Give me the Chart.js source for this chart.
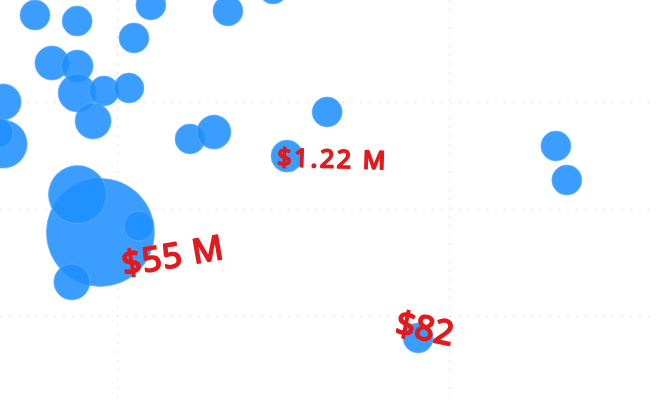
<!DOCTYPE html>
<html>
<head>
<meta charset="utf-8">
<script src="https://cdn.jsdelivr.net/npm/chart.js@4"></script>
<style>
  html, body { margin: 0; padding: 0; background: #fff; }
  #wrap { width: 657px; height: 403px; }
</style>
</head>
<body>
<div id="wrap"><canvas id="chartBubbles"></canvas></div>
<script>
// valores
const bubbleX = [75.0, 87.7, 109.9, 133.1, 146.7, 104.8, 80.1, 87.7, 87.7, 95.8, 103.3, 92.5, 65.4, 65.4, 63.9,
                 121.7, 128.9, 150.9, 163.0, 231.9, 235.2, 94.7, 87.8, 106.3, 86.1, 190.4];
const bubbleY = [241.1, 238.3, 245.8, 243.0, 253.3, 230.4, 218.7, 217.3, 204.7, 205.6, 207.0, 191.6, 200.5, 180.8, 186.0,
                 183.2, 186.4, 175.2, 195.8, 179.9, 164.0, 139.5, 157.2, 142.5, 116.4, 90.2];
const bubbleR = [15, 15, 15, 15, 15, 15, 17, 16, 19, 15, 15, 18, 18, 24, 15,
                 15, 17, 16, 15, 15, 15, 54, 29, 15, 18, 15];

const xTicks = [100, 200];
const yTicks = [100, 150, 200];

// anotações em vermelho
const noteTexts = ['$1.22 M', '$55 M', '$82'];
const noteX = [147.9, 101.8, 183.1];
const noteY = [170.6, 119.2, 92.1];

const notesPlugin = {
    id: 'notes',
    afterDatasetsDraw(chart) {
        const { ctx, scales } = chart;
        const sizes = [25, 34, 34];
        const angles = [0.03, -0.17, 0.2];
        const spacing = [2.5, 1, 0];
        ctx.save();
        noteTexts.forEach((t, i) => {
            const px = scales.x.getPixelForValue(noteX[i]);
            const py = scales.y.getPixelForValue(noteY[i]);
            ctx.save();
            ctx.translate(px, py);
            ctx.rotate(angles[i]);
            ctx.font = sizes[i] + "px 'Noto Sans'";
            ctx.letterSpacing = spacing[i] + 'px';
            ctx.fillStyle = '#e31a1c';
            ctx.strokeStyle = '#e31a1c';
            ctx.lineWidth = 1.8;
            ctx.lineJoin = 'round';
            ctx.textBaseline = 'alphabetic';
            ctx.fillText(t, 0, 0);
            ctx.strokeText(t, 0, 0);
            ctx.restore();
        });
        ctx.restore();
    }
};

const points = bubbleX.map((x, i) => ({ x: x, y: bubbleY[i], r: bubbleR[i] }));

new Chart(document.getElementById('chartBubbles'), {
    type: 'bubble',
    data: {
        datasets: [{
            data: points,
            backgroundColor: 'rgba(30, 144, 255, 0.87)',
            borderColor: 'rgba(100, 175, 255, 0.7)',
            borderWidth: 1
        }]
    },
    options: {
        responsive: true,
        maintainAspectRatio: false,
        animation: false,
        layout: { padding: 0, autoPadding: false },
        plugins: { legend: { display: false }, tooltip: { enabled: false } },
        scales: {
            x: {
                type: 'linear',
                min: 64.46,
                max: 262.35,
                afterBuildTicks: axis => { axis.ticks = xTicks.map(v => ({ value: v })); },
                ticks: { display: false },
                grid: { color: '#e2e2e2', drawTicks: false },
                border: { display: false, dash: [2, 7] }
            },
            y: {
                type: 'linear',
                min: 59.81,
                max: 248.13,
                afterBuildTicks: axis => { axis.ticks = yTicks.map(v => ({ value: v })); },
                ticks: { display: false },
                grid: { color: '#e2e2e2', drawTicks: false },
                border: { display: false, dash: [2, 7] }
            }
        }
    },
    plugins: [notesPlugin]
});
</script>
</body>
</html>
